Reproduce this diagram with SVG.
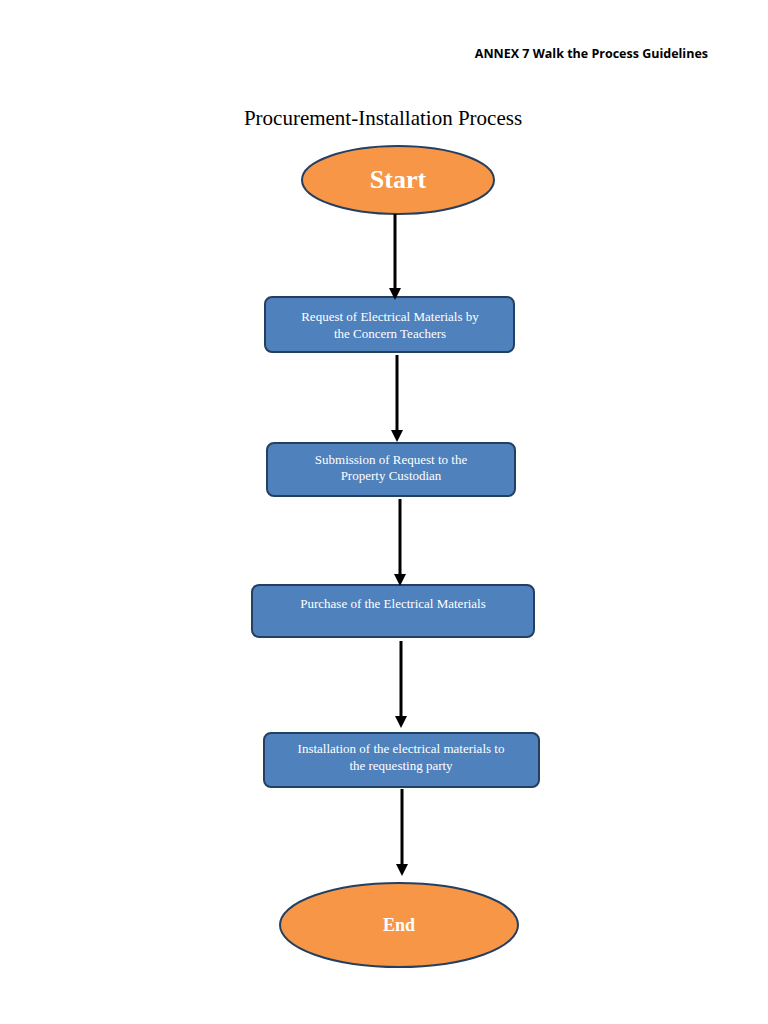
<svg xmlns="http://www.w3.org/2000/svg" width="768" height="1024" viewBox="0 0 768 1024">
<style>
.box{fill:#4F81BD;stroke:#243F60;stroke-width:2}
.ov{fill:#F79646;stroke:#243F60;stroke-width:2}
.bt{font-family:"Liberation Serif",serif;font-size:13px;fill:#fff;text-anchor:middle}
.c{stroke:#000;stroke-width:3;fill:none;marker-end:url(#ah)}
</style>
<defs><marker id="ah" markerWidth="4" markerHeight="4" refX="2" refY="2" orient="auto"><path d="M0,0L4,2L0,4z" fill="#000"/></marker></defs>
<rect width="768" height="1024" fill="#fff"/>
<text x="708" y="58" text-anchor="end" font-family="Open Sans,sans-serif" font-weight="bold" font-size="12.5">ANNEX 7 Walk the Process Guidelines</text>
<text x="383" y="125" text-anchor="middle" font-family="Liberation Serif,serif" font-size="21">Procurement-Installation Process</text>
<g id="start"><ellipse class="ov" cx="398" cy="180" rx="96" ry="34"/><text x="398" y="188" text-anchor="middle" font-family="Liberation Serif,serif" font-weight="bold" font-size="26" fill="#fff">Start</text></g>
<g id="n1"><rect class="box" x="265" y="297" width="249" height="55" rx="7"/><text class="bt" x="390" y="321">Request of Electrical Materials by</text><text class="bt" x="390" y="338">the Concern Teachers</text></g>
<g id="n2"><rect class="box" x="267" y="443" width="248" height="53" rx="7"/><text class="bt" x="391" y="464">Submission of  Request to the</text><text class="bt" x="391" y="480">Property Custodian</text></g>
<g id="n3"><rect class="box" x="252" y="585" width="282" height="52" rx="7"/><text class="bt" x="393" y="608">Purchase of the Electrical Materials</text></g>
<g id="n4"><rect class="box" x="264" y="733" width="275" height="54" rx="7"/><text class="bt" x="401" y="753">Installation of the electrical materials to</text><text class="bt" x="401" y="770">the requesting party</text></g>
<g id="end"><ellipse class="ov" cx="399" cy="925" rx="119" ry="42"/><text x="399" y="931" text-anchor="middle" font-family="Liberation Serif,serif" font-weight="bold" font-size="18" fill="#fff">End</text></g>
<g id="connectors">
<line class="c" x1="395" y1="214" x2="395" y2="294"/>
<line class="c" x1="397" y1="355" x2="397" y2="436"/>
<line class="c" x1="400" y1="499" x2="400" y2="580"/>
<line class="c" x1="401" y1="641" x2="401" y2="722"/>
<line class="c" x1="402" y1="789" x2="402" y2="870"/>
</g>
</svg>
